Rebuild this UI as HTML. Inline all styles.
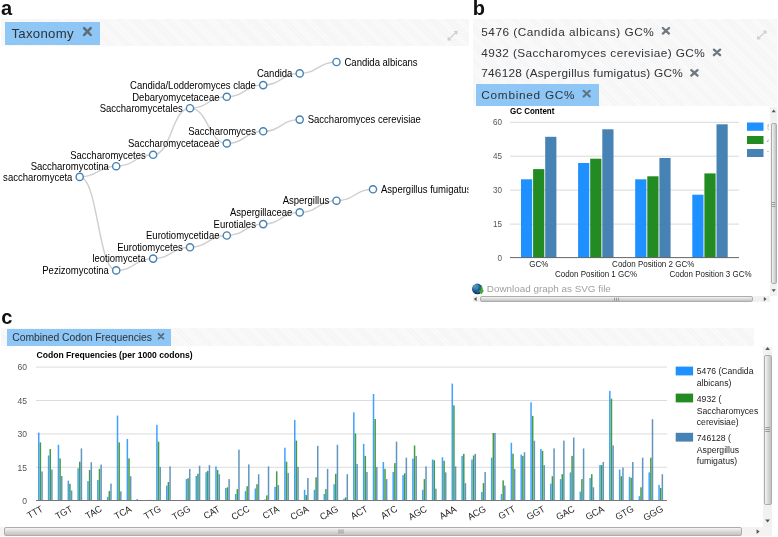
<!DOCTYPE html>
<html lang="en">
<head>
<meta charset="utf-8">
<title>Codon usage figure</title>
<style>
html,body{margin:0;padding:0;background:#fff;}
body{width:778px;height:537px;position:relative;overflow:hidden;font-family:"Liberation Sans",sans-serif;color:#222;}
.abs{position:absolute;}
.pl{position:absolute;font-weight:bold;font-size:20px;line-height:20px;color:#111;}
.tabbar{position:absolute;background:#f7f7f7;background-image:repeating-linear-gradient(45deg,#fbfbfb 0,#fbfbfb 1px,#f4f4f4 1px,#f4f4f4 2px);}
.tab{position:absolute;white-space:nowrap;color:#2e3338;font-size:11.8px;}
.tab.sel{background:#8ec6f6;}
.tab .x{position:absolute;}
svg{position:absolute;left:0;top:0;}
svg text{font-family:"Liberation Sans",sans-serif;}
.tl text{font-size:10.3px;fill:#000;}
.ax{font-size:8.5px;fill:#555;}
.gx{font-size:8px;fill:#222;}
.cx{font-size:8.5px;fill:#222;}
.lg{font-size:8.5px;fill:#222;}
.ttl{font-size:8.6px;font-weight:bold;fill:#000;}
.dl{position:absolute;left:486.8px;top:282.6px;line-height:12px;font-size:9.9px;color:#a0a0a0;white-space:nowrap;}
.sb{position:absolute;background:#f1f1f1;}
.th{position:absolute;border:1px solid #adadad;border-radius:2px;box-sizing:border-box;}
.th.v{background:linear-gradient(90deg,#f4f4f4 0%,#dcdcdc 45%,#c2c2c2 100%);}
.th.h{background:linear-gradient(180deg,#f4f4f4 0%,#dcdcdc 45%,#c2c2c2 100%);}
</style>
</head>
<body>

<!-- panel letters -->
<div class="pl" style="left:1px;top:-2px;">a</div>
<div class="pl" style="left:472.7px;top:-2px;">b</div>
<div class="pl" style="left:1.2px;top:306.5px;">c</div>

<!-- Panel A tab bar -->
<div class="tabbar" style="left:1px;top:19.3px;width:467.5px;height:26.6px;"></div>
<div class="tab sel" style="left:5px;top:22px;width:95.2px;height:23.2px;line-height:23px;font-size:13.2px;letter-spacing:0.29px;"><span style="margin-left:6.4px;">Taxonomy</span></div>

<!-- Panel B tab bar -->
<div class="tabbar" style="left:472.5px;top:19.3px;width:304.5px;height:87.2px;"></div>
<div class="tab" style="left:481.3px;top:21.5px;line-height:21px;letter-spacing:0.5px;">5476 (Candida albicans) GC%</div>
<div class="tab" style="left:481.3px;top:42.5px;line-height:21px;letter-spacing:0.42px;">4932 (Saccharomyces cerevisiae) GC%</div>
<div class="tab" style="left:481.3px;top:63.3px;line-height:21px;letter-spacing:0.22px;">746128 (Aspergillus fumigatus) GC%</div>
<div class="tab sel" style="left:475.6px;top:84px;width:123px;height:22.3px;line-height:22.4px;letter-spacing:0.73px;"><span style="margin-left:5.7px;">Combined GC%</span></div>

<!-- Panel C tab bar -->
<div class="tabbar" style="left:1px;top:327.6px;width:752.7px;height:18.9px;"></div>
<div class="tab sel" style="left:7.2px;top:328.6px;width:163.8px;height:17px;line-height:17px;font-size:10.4px;letter-spacing:-0.05px;"><span style="margin-left:5.1px;">Combined Codon Frequencies</span></div>

<div class="dl">Download graph as SVG file</div>

<!-- scrollbars panel B -->
<div class="sb" style="left:770.1px;top:106.5px;width:6.8px;height:189px;"></div>
<div class="th v" style="left:770.5px;top:122.5px;width:6px;height:161px;"></div>
<div class="sb" style="left:472.5px;top:296.3px;width:297.5px;height:6px;"></div>
<div class="th h" style="left:479.5px;top:296.3px;width:273.5px;height:6px;"></div>

<!-- scrollbars panel C -->
<div class="sb" style="left:763.2px;top:346.5px;width:8.8px;height:181px;"></div>
<div class="th v" style="left:763.6px;top:354.5px;width:8px;height:150px;"></div>
<div class="sb" style="left:0px;top:527.3px;width:772px;height:8.6px;background:#f3f3f3;"></div>
<div class="th h" style="left:4px;top:527.2px;width:737.5px;height:8.6px;"></div>

<svg width="778" height="537" viewBox="0 0 778 537">
<defs><clipPath id="ca"><rect x="0" y="46" width="468.5" height="260"/></clipPath><clipPath id="cb"><rect x="740" y="107" width="28.3" height="180"/></clipPath></defs>
<!-- tab close icons -->
<g stroke="#5b6b78" stroke-width="2.5" stroke-linecap="round" fill="none">
<path d="M84.1,28.2 l6.6,6.8 M90.7,28.2 l-6.6,6.8"/>
</g>
<g stroke="#6f7780" stroke-width="2.3" stroke-linecap="round" fill="none">
<path d="M662.8,28 l6.2,5.6 M669,28 l-6.2,5.6"/>
<path d="M713.9,49.6 l6.2,5.6 M720.1,49.6 l-6.2,5.6"/>
<path d="M691.3,70.1 l6.2,5.6 M697.5,70.1 l-6.2,5.6"/>
</g>
<g stroke="#5f7485" stroke-width="2.1" stroke-linecap="round" fill="none">
<path d="M583.6,90.8 l6.2,5.8 M589.8,90.8 l-6.2,5.8"/>
</g>
<g stroke="#5b6b78" stroke-width="1.8" stroke-linecap="round" fill="none"><path d="M158.6,333.8 l4.8,4.8 M163.4,333.8 l-4.8,4.8"/></g>

<g clip-path="url(#ca)">
<g fill="none" stroke="#cfcfcf" stroke-width="1.4"><path d="M79.7,176.9C98.0,176.9 98.0,166.2 116.2,166.2"/><path d="M116.2,166.2C134.7,166.2 134.7,154.8 153.1,154.8"/><path d="M153.1,154.8C171.6,154.8 171.6,108.2 190.0,108.2"/><path d="M190.0,108.2C208.4,108.2 208.4,96.8 226.8,96.8"/><path d="M226.8,96.8C245.0,96.8 245.0,85.1 263.2,85.1"/><path d="M263.2,85.1C281.4,85.1 281.4,73.4 299.7,73.4"/><path d="M299.7,73.4C318.1,73.4 318.1,62.0 336.5,62.0"/><path d="M190.0,108.2C208.4,108.2 208.4,143.4 226.8,143.4"/><path d="M226.8,143.4C245.0,143.4 245.0,131.3 263.2,131.3"/><path d="M263.2,131.3C281.4,131.3 281.4,119.6 299.7,119.6"/><path d="M79.7,176.9C98.0,176.9 98.0,270.4 116.2,270.4"/><path d="M116.2,270.4C134.7,270.4 134.7,258.6 153.1,258.6"/><path d="M153.1,258.6C171.6,258.6 171.6,247.3 190.0,247.3"/><path d="M190.0,247.3C208.4,247.3 208.4,235.5 226.8,235.5"/><path d="M226.8,235.5C245.0,235.5 245.0,224.1 263.2,224.1"/><path d="M263.2,224.1C281.4,224.1 281.4,212.4 299.7,212.4"/><path d="M299.7,212.4C318.1,212.4 318.1,200.7 336.5,200.7"/><path d="M336.5,200.7C354.8,200.7 354.8,189.3 373.0,189.3"/></g><g fill="#fff" stroke="#4682b4" stroke-width="1.4"><circle cx="79.7" cy="176.9" r="3.6"/><circle cx="116.2" cy="166.2" r="3.6"/><circle cx="153.1" cy="154.8" r="3.6"/><circle cx="190.0" cy="108.2" r="3.6"/><circle cx="226.8" cy="96.8" r="3.6"/><circle cx="263.2" cy="85.1" r="3.6"/><circle cx="299.7" cy="73.4" r="3.6"/><circle cx="336.5" cy="62.0" r="3.6"/><circle cx="226.8" cy="143.4" r="3.6"/><circle cx="263.2" cy="131.3" r="3.6"/><circle cx="299.7" cy="119.6" r="3.6"/><circle cx="116.2" cy="270.4" r="3.6"/><circle cx="153.1" cy="258.6" r="3.6"/><circle cx="190.0" cy="247.3" r="3.6"/><circle cx="226.8" cy="235.5" r="3.6"/><circle cx="263.2" cy="224.1" r="3.6"/><circle cx="299.7" cy="212.4" r="3.6"/><circle cx="336.5" cy="200.7" r="3.6"/><circle cx="373.0" cy="189.3" r="3.6"/></g><g class="tl"><text transform="translate(72.4,180.6) scale(0.925,1)" text-anchor="end">saccharomyceta</text><text transform="translate(108.9,169.9) scale(0.925,1)" text-anchor="end">Saccharomycotina</text><text transform="translate(145.8,158.5) scale(0.925,1)" text-anchor="end">Saccharomycetes</text><text transform="translate(182.7,111.9) scale(0.925,1)" text-anchor="end">Saccharomycetales</text><text transform="translate(219.5,100.5) scale(0.925,1)" text-anchor="end">Debaryomycetaceae</text><text transform="translate(255.9,88.8) scale(0.925,1)" text-anchor="end">Candida/Lodderomyces clade</text><text transform="translate(292.4,77.1) scale(0.925,1)" text-anchor="end">Candida</text><text transform="translate(344.5,65.7) scale(0.925,1)">Candida albicans</text><text transform="translate(219.5,147.1) scale(0.925,1)" text-anchor="end">Saccharomycetaceae</text><text transform="translate(255.9,135.0) scale(0.925,1)" text-anchor="end">Saccharomyces</text><text transform="translate(307.7,123.3) scale(0.925,1)">Saccharomyces cerevisiae</text><text transform="translate(108.9,274.1) scale(0.925,1)" text-anchor="end">Pezizomycotina</text><text transform="translate(145.8,262.3) scale(0.925,1)" text-anchor="end">leotiomyceta</text><text transform="translate(182.7,251.0) scale(0.925,1)" text-anchor="end">Eurotiomycetes</text><text transform="translate(219.5,239.2) scale(0.925,1)" text-anchor="end">Eurotiomycetidae</text><text transform="translate(255.9,227.8) scale(0.925,1)" text-anchor="end">Eurotiales</text><text transform="translate(292.4,216.1) scale(0.925,1)" text-anchor="end">Aspergillaceae</text><text transform="translate(329.2,204.4) scale(0.925,1)" text-anchor="end">Aspergillus</text><text transform="translate(381.0,193.0) scale(0.925,1)">Aspergillus fumigatus</text></g>
</g>

<!-- GC chart -->
<text transform="translate(510.0,114.4) scale(0.93,1)" font-size="8.6" fill="#000" font-weight="bold">GC Content</text><text transform="translate(538.8,266.8) scale(0.93,1)" font-size="8.6" fill="#222" text-anchor="middle">GC%</text><text transform="translate(596.0,277.1) scale(0.93,1)" font-size="8.6" fill="#222" text-anchor="middle">Codon Position 1 GC%</text><text transform="translate(653.2,266.8) scale(0.93,1)" font-size="8.6" fill="#222" text-anchor="middle">Codon Position 2 GC%</text><text transform="translate(710.5,277.1) scale(0.93,1)" font-size="8.6" fill="#222" text-anchor="middle">Codon Position 3 GC%</text>
<line x1="510" x2="739" y1="224.1" y2="224.1" stroke="#d9d9d9" stroke-width="1"/><line x1="510" x2="739" y1="190.1" y2="190.1" stroke="#d9d9d9" stroke-width="1"/><line x1="510" x2="739" y1="156.2" y2="156.2" stroke="#d9d9d9" stroke-width="1"/><line x1="510" x2="739" y1="122.3" y2="122.3" stroke="#d9d9d9" stroke-width="1"/><rect x="521.0" y="179.3" width="11.2" height="78.7" fill="#1e90ff"/><rect x="533.1" y="169.1" width="11.2" height="88.9" fill="#228b22"/><rect x="545.2" y="136.8" width="11.2" height="121.2" fill="#4682b4"/><rect x="578.1" y="163.0" width="11.2" height="95.0" fill="#1e90ff"/><rect x="590.2" y="158.7" width="11.2" height="99.3" fill="#228b22"/><rect x="602.3" y="129.3" width="11.2" height="128.7" fill="#4682b4"/><rect x="635.2" y="179.3" width="11.2" height="78.7" fill="#1e90ff"/><rect x="647.3" y="176.3" width="11.2" height="81.7" fill="#228b22"/><rect x="659.4" y="158.0" width="11.2" height="100.0" fill="#4682b4"/><rect x="692.3" y="194.7" width="11.2" height="63.3" fill="#1e90ff"/><rect x="704.4" y="173.4" width="11.2" height="84.6" fill="#228b22"/><rect x="716.5" y="124.3" width="11.2" height="133.7" fill="#4682b4"/><line x1="510" x2="739" y1="257.6" y2="257.6" stroke="#666" stroke-width="1"/><text transform="translate(502.0,261.0) scale(0.93,1)" font-size="8.7" fill="#555" text-anchor="end">0</text><text transform="translate(502.0,227.1) scale(0.93,1)" font-size="8.7" fill="#555" text-anchor="end">15</text><text transform="translate(502.0,193.1) scale(0.93,1)" font-size="8.7" fill="#555" text-anchor="end">30</text><text transform="translate(502.0,159.2) scale(0.93,1)" font-size="8.7" fill="#555" text-anchor="end">45</text><text transform="translate(502.0,125.3) scale(0.93,1)" font-size="8.7" fill="#555" text-anchor="end">60</text>
<rect x="747" y="122.5" width="16.5" height="8.3" fill="#1e90ff"/>
<rect x="747" y="136" width="16.5" height="8" fill="#228b22"/>
<rect x="747" y="149" width="16.5" height="8" fill="#4682b4"/>
<g clip-path="url(#cb)" font-size="8.6" fill="#222"><text x="767.3" y="130">5476 (Candida albicans)</text><text x="767.3" y="143.3">4932 (Saccharomyces cerevisiae)</text><text x="767.3" y="156.5">746128 (Aspergillus fumigatus)</text></g>

<!-- download icon -->
<defs><radialGradient id="gl" cx="0.35" cy="0.3" r="0.75"><stop offset="0" stop-color="#7cc0f6"/><stop offset="0.45" stop-color="#215fae"/><stop offset="1" stop-color="#0b2350"/></radialGradient></defs>
<circle cx="477.3" cy="288.9" r="5.3" fill="url(#gl)"/>
<path d="M474.2,287.2 q1.5,-2.4 3.6,-1.2 q0.6,1.8 -1,2.6 q-1.2,1.8 -2.6,-1.4z M476.5,291.3 q1.6,-0.8 2.4,0.6 q-0.6,1.4 -1.8,1.2z" fill="#3f8f4a" opacity="0.75"/>
<path d="M481.3,286.6 v5.2 M479.3,290.3 l2,2.9 l2,-2.9" stroke="#3fae2a" stroke-width="1.5" fill="none" stroke-linejoin="round"/>
<!-- expand icons -->
<g stroke="#cdcdcd" stroke-width="1.2" fill="none" stroke-linecap="round">
<path d="M448.4,39.6 L456.6,31.8 M454.4,31.5 h2.4 v2.4 M448.2,37.5 v2.3 h2.4"/>
<path d="M757.9,38.6 L765.8,31.4 M763.7,31.1 h2.3 v2.3 M757.7,36.6 v2.2 h2.3"/>
</g>
<!-- scrollbar arrows and grips -->
<g fill="#555">
<path d="M771.6,112.3 h4.2 l-2.1,-2.8z"/><path d="M771.6,289.3 h4.2 l-2.1,2.8z"/>
<path d="M476.6,297 v4.2 l-2.8,-2.1z"/><path d="M763.8,297 v4.2 l2.8,-2.1z"/>
<path d="M765.3,350 h4.6 l-2.3,-3z"/><path d="M765.3,519.6 h4.6 l-2.3,3z"/>
<path d="M756.6,529.2 v4.8 l3,-2.4z"/>
</g>
<g stroke="#8a8a8a" stroke-width="0.8">
<path d="M771.7,202.5 h3.6 M771.7,204.5 h3.6 M771.7,206.5 h3.6"/>
<path d="M614.5,297.7 v3.2 M616.5,297.7 v3.2 M618.5,297.7 v3.2"/>
<path d="M765.2,427.5 h4.8 M765.2,429.5 h4.8 M765.2,431.5 h4.8"/>
<path d="M339,529.4 v4.2 M341,529.4 v4.2 M343,529.4 v4.2"/>
</g>

<!-- Codon chart -->
<text transform="translate(36.5,357.8) scale(0.93,1)" font-size="9.25" fill="#000" font-weight="bold">Codon Frequencies (per 1000 codons)</text>
<line x1="36" x2="667" y1="467.3" y2="467.3" stroke="#dcdcdc" stroke-width="1"/><line x1="36" x2="667" y1="433.9" y2="433.9" stroke="#dcdcdc" stroke-width="1"/><line x1="36" x2="667" y1="400.5" y2="400.5" stroke="#dcdcdc" stroke-width="1"/><line x1="36" x2="667" y1="367.1" y2="367.1" stroke="#dcdcdc" stroke-width="1"/><g fill="#1e90ff" fill-opacity="0.85"><rect x="38.00" y="432.6" width="1.5" height="68.1"/><rect x="47.85" y="455.5" width="1.5" height="45.2"/><rect x="57.69" y="444.8" width="1.5" height="55.9"/><rect x="67.54" y="480.7" width="1.5" height="20.0"/><rect x="77.38" y="468.2" width="1.5" height="32.5"/><rect x="87.23" y="481.1" width="1.5" height="19.6"/><rect x="97.08" y="480.0" width="1.5" height="20.7"/><rect x="106.92" y="496.9" width="1.5" height="3.8"/><rect x="116.77" y="415.6" width="1.5" height="85.1"/><rect x="126.61" y="439.0" width="1.5" height="61.7"/><rect x="136.46" y="499.1" width="1.5" height="1.6"/><rect x="146.31" y="500.3" width="1.5" height="0.4"/><rect x="156.15" y="424.8" width="1.5" height="75.9"/><rect x="166.00" y="485.6" width="1.5" height="15.1"/><rect x="175.84" y="500.3" width="1.5" height="0.4"/><rect x="185.69" y="479.1" width="1.5" height="21.6"/><rect x="195.54" y="476.0" width="1.5" height="24.7"/><rect x="205.38" y="472.2" width="1.5" height="28.5"/><rect x="215.23" y="466.4" width="1.5" height="34.3"/><rect x="225.07" y="488.0" width="1.5" height="12.7"/><rect x="234.92" y="494.0" width="1.5" height="6.7"/><rect x="244.77" y="491.1" width="1.5" height="9.6"/><rect x="254.61" y="488.5" width="1.5" height="12.2"/><rect x="264.46" y="499.4" width="1.5" height="1.3"/><rect x="274.30" y="486.9" width="1.5" height="13.8"/><rect x="284.15" y="447.7" width="1.5" height="53.0"/><rect x="294.00" y="419.9" width="1.5" height="80.8"/><rect x="303.84" y="489.8" width="1.5" height="10.9"/><rect x="313.69" y="489.8" width="1.5" height="10.9"/><rect x="323.53" y="494.0" width="1.5" height="6.7"/><rect x="333.38" y="484.2" width="1.5" height="16.5"/><rect x="343.23" y="498.7" width="1.5" height="2.0"/><rect x="353.07" y="412.3" width="1.5" height="88.4"/><rect x="362.92" y="443.9" width="1.5" height="56.8"/><rect x="372.76" y="394.0" width="1.5" height="106.7"/><rect x="382.61" y="462.0" width="1.5" height="38.7"/><rect x="392.46" y="472.0" width="1.5" height="28.7"/><rect x="402.30" y="475.1" width="1.5" height="25.6"/><rect x="412.15" y="458.6" width="1.5" height="42.1"/><rect x="421.99" y="489.8" width="1.5" height="10.9"/><rect x="431.84" y="459.5" width="1.5" height="41.2"/><rect x="441.69" y="457.3" width="1.5" height="43.4"/><rect x="451.53" y="383.6" width="1.5" height="117.1"/><rect x="461.38" y="455.9" width="1.5" height="44.8"/><rect x="471.22" y="459.5" width="1.5" height="41.2"/><rect x="481.07" y="492.0" width="1.5" height="8.7"/><rect x="490.92" y="457.7" width="1.5" height="43.0"/><rect x="500.76" y="494.0" width="1.5" height="6.7"/><rect x="510.61" y="442.8" width="1.5" height="57.9"/><rect x="520.45" y="454.6" width="1.5" height="46.1"/><rect x="530.30" y="402.3" width="1.5" height="98.4"/><rect x="540.15" y="449.0" width="1.5" height="51.7"/><rect x="549.99" y="483.6" width="1.5" height="17.1"/><rect x="559.84" y="479.1" width="1.5" height="21.6"/><rect x="569.68" y="472.4" width="1.5" height="28.3"/><rect x="579.53" y="491.6" width="1.5" height="9.1"/><rect x="589.38" y="478.0" width="1.5" height="22.7"/><rect x="599.22" y="465.1" width="1.5" height="35.6"/><rect x="609.07" y="390.9" width="1.5" height="109.8"/><rect x="618.91" y="469.5" width="1.5" height="31.2"/><rect x="628.76" y="476.9" width="1.5" height="23.8"/><rect x="638.61" y="496.2" width="1.5" height="4.5"/><rect x="648.45" y="472.4" width="1.5" height="28.3"/><rect x="658.30" y="484.9" width="1.5" height="15.8"/></g><g fill="#228b22" fill-opacity="0.85"><rect x="39.65" y="442.4" width="1.5" height="58.3"/><rect x="49.50" y="449.0" width="1.5" height="51.7"/><rect x="59.34" y="458.4" width="1.5" height="42.3"/><rect x="69.19" y="483.8" width="1.5" height="16.9"/><rect x="79.03" y="461.7" width="1.5" height="39.0"/><rect x="88.88" y="470.0" width="1.5" height="30.7"/><rect x="98.73" y="468.9" width="1.5" height="31.8"/><rect x="108.57" y="491.1" width="1.5" height="9.6"/><rect x="118.42" y="442.4" width="1.5" height="58.3"/><rect x="128.26" y="458.4" width="1.5" height="42.3"/><rect x="138.11" y="500.0" width="1.5" height="0.7"/><rect x="147.96" y="500.3" width="1.5" height="0.4"/><rect x="157.80" y="441.7" width="1.5" height="59.0"/><rect x="167.65" y="482.0" width="1.5" height="18.7"/><rect x="177.49" y="500.3" width="1.5" height="0.4"/><rect x="187.34" y="478.2" width="1.5" height="22.5"/><rect x="197.19" y="473.8" width="1.5" height="26.9"/><rect x="207.03" y="470.9" width="1.5" height="29.8"/><rect x="216.88" y="470.0" width="1.5" height="30.7"/><rect x="226.72" y="487.3" width="1.5" height="13.4"/><rect x="236.57" y="489.1" width="1.5" height="11.6"/><rect x="246.42" y="486.2" width="1.5" height="14.5"/><rect x="256.26" y="484.2" width="1.5" height="16.5"/><rect x="266.11" y="495.4" width="1.5" height="5.3"/><rect x="275.95" y="471.3" width="1.5" height="29.4"/><rect x="285.80" y="461.7" width="1.5" height="39.0"/><rect x="295.65" y="440.6" width="1.5" height="60.1"/><rect x="305.49" y="495.1" width="1.5" height="5.6"/><rect x="315.34" y="477.3" width="1.5" height="23.4"/><rect x="325.18" y="489.1" width="1.5" height="11.6"/><rect x="335.03" y="473.8" width="1.5" height="26.9"/><rect x="344.88" y="497.4" width="1.5" height="3.3"/><rect x="354.72" y="433.5" width="1.5" height="67.2"/><rect x="364.57" y="455.9" width="1.5" height="44.8"/><rect x="374.41" y="419.0" width="1.5" height="81.7"/><rect x="384.26" y="468.9" width="1.5" height="31.8"/><rect x="394.11" y="463.1" width="1.5" height="37.6"/><rect x="403.95" y="473.3" width="1.5" height="27.4"/><rect x="413.80" y="445.5" width="1.5" height="55.2"/><rect x="423.64" y="479.1" width="1.5" height="21.6"/><rect x="433.49" y="460.2" width="1.5" height="40.5"/><rect x="443.34" y="460.8" width="1.5" height="39.9"/><rect x="453.18" y="405.4" width="1.5" height="95.3"/><rect x="463.03" y="453.9" width="1.5" height="46.8"/><rect x="472.87" y="455.5" width="1.5" height="45.2"/><rect x="482.72" y="483.1" width="1.5" height="17.6"/><rect x="492.57" y="433.0" width="1.5" height="67.7"/><rect x="502.41" y="480.4" width="1.5" height="20.3"/><rect x="512.26" y="453.7" width="1.5" height="47.0"/><rect x="522.10" y="455.9" width="1.5" height="44.8"/><rect x="531.95" y="415.9" width="1.5" height="84.8"/><rect x="541.80" y="450.8" width="1.5" height="49.9"/><rect x="551.64" y="476.2" width="1.5" height="24.5"/><rect x="561.49" y="474.2" width="1.5" height="26.5"/><rect x="571.33" y="455.9" width="1.5" height="44.8"/><rect x="581.18" y="479.1" width="1.5" height="21.6"/><rect x="591.03" y="474.2" width="1.5" height="26.5"/><rect x="600.87" y="465.1" width="1.5" height="35.6"/><rect x="610.72" y="398.7" width="1.5" height="102.0"/><rect x="620.56" y="476.2" width="1.5" height="24.5"/><rect x="630.41" y="477.8" width="1.5" height="22.9"/><rect x="640.26" y="487.3" width="1.5" height="13.4"/><rect x="650.10" y="457.7" width="1.5" height="43.0"/><rect x="659.95" y="488.0" width="1.5" height="12.7"/></g><g fill="#4682b4" fill-opacity="0.85"><rect x="41.30" y="471.5" width="1.5" height="29.2"/><rect x="51.15" y="469.5" width="1.5" height="31.2"/><rect x="60.99" y="476.0" width="1.5" height="24.7"/><rect x="70.84" y="490.5" width="1.5" height="10.2"/><rect x="80.68" y="448.4" width="1.5" height="52.3"/><rect x="90.53" y="462.2" width="1.5" height="38.5"/><rect x="100.38" y="464.6" width="1.5" height="36.1"/><rect x="110.22" y="483.6" width="1.5" height="17.1"/><rect x="120.07" y="491.3" width="1.5" height="9.4"/><rect x="129.91" y="476.2" width="1.5" height="24.5"/><rect x="139.76" y="500.3" width="1.5" height="0.4"/><rect x="149.61" y="499.8" width="1.5" height="0.9"/><rect x="159.45" y="466.9" width="1.5" height="33.8"/><rect x="169.30" y="466.4" width="1.5" height="34.3"/><rect x="179.14" y="500.3" width="1.5" height="0.4"/><rect x="188.99" y="468.9" width="1.5" height="31.8"/><rect x="198.84" y="465.7" width="1.5" height="35.0"/><rect x="208.68" y="465.1" width="1.5" height="35.6"/><rect x="218.53" y="474.2" width="1.5" height="26.5"/><rect x="228.37" y="479.1" width="1.5" height="21.6"/><rect x="238.22" y="449.7" width="1.5" height="51.0"/><rect x="248.07" y="464.4" width="1.5" height="36.3"/><rect x="257.91" y="474.2" width="1.5" height="26.5"/><rect x="267.76" y="466.4" width="1.5" height="34.3"/><rect x="277.60" y="485.1" width="1.5" height="15.6"/><rect x="287.45" y="472.9" width="1.5" height="27.8"/><rect x="297.30" y="466.9" width="1.5" height="33.8"/><rect x="307.14" y="478.0" width="1.5" height="22.7"/><rect x="316.99" y="445.9" width="1.5" height="54.8"/><rect x="326.83" y="468.9" width="1.5" height="31.8"/><rect x="336.68" y="444.8" width="1.5" height="55.9"/><rect x="346.53" y="474.2" width="1.5" height="26.5"/><rect x="356.37" y="464.0" width="1.5" height="36.7"/><rect x="366.22" y="472.0" width="1.5" height="28.7"/><rect x="376.06" y="467.1" width="1.5" height="33.6"/><rect x="385.91" y="479.1" width="1.5" height="21.6"/><rect x="395.76" y="441.7" width="1.5" height="59.0"/><rect x="405.60" y="457.7" width="1.5" height="43.0"/><rect x="415.45" y="455.9" width="1.5" height="44.8"/><rect x="425.29" y="466.4" width="1.5" height="34.3"/><rect x="435.14" y="488.7" width="1.5" height="12.0"/><rect x="444.99" y="472.4" width="1.5" height="28.3"/><rect x="454.83" y="466.4" width="1.5" height="34.3"/><rect x="464.68" y="483.1" width="1.5" height="17.6"/><rect x="474.52" y="453.9" width="1.5" height="46.8"/><rect x="484.37" y="472.0" width="1.5" height="28.7"/><rect x="494.22" y="433.0" width="1.5" height="67.7"/><rect x="504.06" y="485.6" width="1.5" height="15.1"/><rect x="513.91" y="468.9" width="1.5" height="31.8"/><rect x="523.75" y="452.2" width="1.5" height="48.5"/><rect x="533.60" y="440.8" width="1.5" height="59.9"/><rect x="543.45" y="465.1" width="1.5" height="35.6"/><rect x="553.29" y="448.4" width="1.5" height="52.3"/><rect x="563.14" y="440.6" width="1.5" height="60.1"/><rect x="572.98" y="437.5" width="1.5" height="63.2"/><rect x="582.83" y="448.4" width="1.5" height="52.3"/><rect x="592.68" y="487.3" width="1.5" height="13.4"/><rect x="602.52" y="462.0" width="1.5" height="38.7"/><rect x="612.37" y="445.5" width="1.5" height="55.2"/><rect x="622.21" y="467.5" width="1.5" height="33.2"/><rect x="632.06" y="462.0" width="1.5" height="38.7"/><rect x="641.91" y="457.7" width="1.5" height="43.0"/><rect x="651.75" y="419.2" width="1.5" height="81.5"/><rect x="661.60" y="474.2" width="1.5" height="26.5"/></g><line x1="36" x2="667" y1="500.5" y2="500.5" stroke="#777" stroke-width="1"/><text transform="translate(27.0,503.9) scale(0.93,1)" font-size="9.2" fill="#555" text-anchor="end">0</text><text transform="translate(27.0,470.5) scale(0.93,1)" font-size="9.2" fill="#555" text-anchor="end">15</text><text transform="translate(27.0,437.1) scale(0.93,1)" font-size="9.2" fill="#555" text-anchor="end">30</text><text transform="translate(27.0,403.7) scale(0.93,1)" font-size="9.2" fill="#555" text-anchor="end">45</text><text transform="translate(27.0,370.3) scale(0.93,1)" font-size="9.2" fill="#555" text-anchor="end">60</text><text transform="translate(43.6,510.9) rotate(-30) scale(0.93,1)" font-size="9.6" fill="#222" text-anchor="end">TTT</text><text transform="translate(73.1,510.9) rotate(-30) scale(0.93,1)" font-size="9.6" fill="#222" text-anchor="end">TGT</text><text transform="translate(102.7,510.9) rotate(-30) scale(0.93,1)" font-size="9.6" fill="#222" text-anchor="end">TAC</text><text transform="translate(132.2,510.9) rotate(-30) scale(0.93,1)" font-size="9.6" fill="#222" text-anchor="end">TCA</text><text transform="translate(161.8,510.9) rotate(-30) scale(0.93,1)" font-size="9.6" fill="#222" text-anchor="end">TTG</text><text transform="translate(191.3,510.9) rotate(-30) scale(0.93,1)" font-size="9.6" fill="#222" text-anchor="end">TGG</text><text transform="translate(220.8,510.9) rotate(-30) scale(0.93,1)" font-size="9.6" fill="#222" text-anchor="end">CAT</text><text transform="translate(250.4,510.9) rotate(-30) scale(0.93,1)" font-size="9.6" fill="#222" text-anchor="end">CCC</text><text transform="translate(279.9,510.9) rotate(-30) scale(0.93,1)" font-size="9.6" fill="#222" text-anchor="end">CTA</text><text transform="translate(309.4,510.9) rotate(-30) scale(0.93,1)" font-size="9.6" fill="#222" text-anchor="end">CGA</text><text transform="translate(339.0,510.9) rotate(-30) scale(0.93,1)" font-size="9.6" fill="#222" text-anchor="end">CAG</text><text transform="translate(368.5,510.9) rotate(-30) scale(0.93,1)" font-size="9.6" fill="#222" text-anchor="end">ACT</text><text transform="translate(398.1,510.9) rotate(-30) scale(0.93,1)" font-size="9.6" fill="#222" text-anchor="end">ATC</text><text transform="translate(427.6,510.9) rotate(-30) scale(0.93,1)" font-size="9.6" fill="#222" text-anchor="end">AGC</text><text transform="translate(457.1,510.9) rotate(-30) scale(0.93,1)" font-size="9.6" fill="#222" text-anchor="end">AAA</text><text transform="translate(486.7,510.9) rotate(-30) scale(0.93,1)" font-size="9.6" fill="#222" text-anchor="end">ACG</text><text transform="translate(516.2,510.9) rotate(-30) scale(0.93,1)" font-size="9.6" fill="#222" text-anchor="end">GTT</text><text transform="translate(545.7,510.9) rotate(-30) scale(0.93,1)" font-size="9.6" fill="#222" text-anchor="end">GGT</text><text transform="translate(575.3,510.9) rotate(-30) scale(0.93,1)" font-size="9.6" fill="#222" text-anchor="end">GAC</text><text transform="translate(604.8,510.9) rotate(-30) scale(0.93,1)" font-size="9.6" fill="#222" text-anchor="end">GCA</text><text transform="translate(634.4,510.9) rotate(-30) scale(0.93,1)" font-size="9.6" fill="#222" text-anchor="end">GTG</text><text transform="translate(663.9,510.9) rotate(-30) scale(0.93,1)" font-size="9.6" fill="#222" text-anchor="end">GGG</text>
<rect x="675.7" y="366.6" width="17.4" height="8.8" fill="#1e90ff"/>
<rect x="675.7" y="393.6" width="17.4" height="8.8" fill="#228b22"/>
<rect x="675.7" y="432.8" width="17.4" height="8.8" fill="#4682b4"/>
<text transform="translate(696.8,374.3) scale(0.93,1)" font-size="9.3" fill="#222">5476 (Candida</text><text transform="translate(696.8,386.1) scale(0.93,1)" font-size="9.3" fill="#222">albicans)</text><text transform="translate(696.8,401.8) scale(0.93,1)" font-size="9.3" fill="#222">4932 (</text><text transform="translate(696.8,413.5) scale(0.93,1)" font-size="9.3" fill="#222">Saccharomyces</text><text transform="translate(696.8,425.3) scale(0.93,1)" font-size="9.3" fill="#222">cerevisiae)</text><text transform="translate(696.8,441.0) scale(0.93,1)" font-size="9.3" fill="#222">746128 (</text><text transform="translate(696.8,452.5) scale(0.93,1)" font-size="9.3" fill="#222">Aspergillus</text><text transform="translate(696.8,464.3) scale(0.93,1)" font-size="9.3" fill="#222">fumigatus)</text>
</svg>
</body>
</html>
